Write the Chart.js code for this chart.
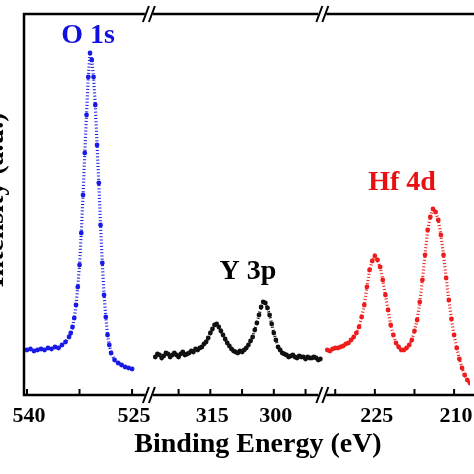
<!DOCTYPE html>
<html><head><meta charset="utf-8">
<script src="https://cdn.jsdelivr.net/npm/chart.js@4/dist/chart.umd.min.js"></script>
<style>html,body{margin:0;padding:0;background:#fff}#wrap{width:474px;height:474px}</style>
</head><body><div id="wrap"><canvas id="c"></canvas></div>
<script>
// ─── Data (binding energy in eV, intensity in a.u.) ─────────────────────────
const O1S_E = [540,539.5,539,538.5,538,537.5,537,536.5,536,535.5,535,534.5,534,533.75,533.5,533.25,533,532.75,532.5,532.25,532,531.75,531.5,531.25,531,530.75,530.5,530.25,530,529.75,529.5,529.25,529,528.75,528.5,528.25,528,527.5,527,526.5,526,525.5,525];
const O1S_I = [45,46,44,45,46,45,47,46,48,47,50,53,58,62,68,77,90,108,130,162,200,242,280,318,342,335,318,290,250,212,170,132,100,78,60,50,42,35,32,30,28,27,26];
const Y3P_E = [328,327.5,327,326.5,326,325.5,325,324.5,324,323.5,323,322.5,322,321.5,321,320.5,320,319.5,319,318.5,318,317.5,317,316.5,316,315.5,315,314.5,314,313.5,313,312.5,312,311.5,311,310.5,310,309.5,309,308.5,308,307.5,307,306.5,306,305.5,305,304.5,304,303.5,303,302.5,302,301.5,301,300.5,300,299.5,299,298.5,298,297.5,297,296.5,296,295.5,295,294.5,294,293.5,293,292.5,292,291.5,291,290.5,290,289.5,289];
const Y3P_I = [38,41,40,37,39,42,41,38,40,42,40,38,41,43,40,41,42,44,43,46,45,47,48,51,53,57,62,66,70,71,68,64,60,56,52,49,46,44,43,42,44,43,45,47,50,54,58,65,72,80,88,93,92,87,80,71,62,55,48,45,42,41,40,38,39,40,38,37,39,38,38,36,38,37,37,38,37,35,36];
const HF4D_E = [234,233.5,233,232.5,232,231.5,231,230.5,230,229.5,229,228.5,228,227.5,227,226.5,226,225.5,225,224.5,224,223.5,223,222.5,222,221.5,221,220.5,220,219.5,219,218.5,218,217.5,217,216.5,216,215.5,215,214.5,214,213.5,213,212.5,212,211.5,211,210.5,210,209.5,209,208.5,208,207.5,207];
const HF4D_I = [45,44,46,47,47,48,49,51,52,55,58,62,68,78,90,108,125,134,139,135,128,115,100,85,70,60,52,48,45,45,47,50,55,64,75,93,115,140,165,178,186,183,175,160,140,117,95,76,60,47,36,27,20,15,12];
const MAJOR_TICKS = [540,525,315,300,225,210];
const MINOR_TICKS = [532.5,322.5,307.5,292.5,232.5,217.5];

// ─── Broken axis: each segment has its own scale onto one linear axis ───────
const SEGMENTS = [
    { e0: 540, u0: 27,  k: 7.07 },
    { e0: 315, u0: 212, k: 4.27 },
    { e0: 225, u0: 378, k: 5.33 },
];
const segOf = e => e > 400 ? SEGMENTS[0] : (e > 260 ? SEGMENTS[1] : SEGMENTS[2]);
const toU = e => { const s = segOf(e); return s.u0 + (s.e0 - e) * s.k; };
const pts = (E, I) => E.map((e, i) => ({ x: toU(e), y: I[i] }));

const ds = (E, I, color) => ({
    data: pts(E, I), showLine: true, borderDash: [1, 2.2], borderWidth: 3.2,
    pointRadius: 2.4, pointBorderWidth: 0,
    backgroundColor: color, borderColor: color,
});

const decor = {
    id: "decor",
    afterDraw(chart) {
        const { ctx, chartArea: a, scales: { x } } = chart;
        ctx.save();
        ctx.strokeStyle = "#000"; ctx.lineWidth = 2.5;
        ctx.beginPath();
        ctx.moveTo(a.right + 5, a.top); ctx.lineTo(a.left, a.top);
        ctx.lineTo(a.left, a.bottom); ctx.lineTo(a.right + 5, a.bottom);
        ctx.stroke();
        // ticks (inward)
        ctx.lineWidth = 2;
        [...MAJOR_TICKS, ...MINOR_TICKS].forEach(e => {
            const px = x.getPixelForValue(toU(e));
            ctx.beginPath(); ctx.moveTo(px, a.bottom); ctx.lineTo(px, a.bottom - 6); ctx.stroke();
        });
        // axis breaks
        [150, 325].forEach(u => {
            const px = x.getPixelForValue(u);
            [a.top, a.bottom].forEach(py => {
                ctx.fillStyle = "#fff"; ctx.fillRect(px - 4, py - 3, 8, 6);
                ctx.strokeStyle = "#000"; ctx.lineWidth = 2;
                [-3, 3].forEach(d => {
                    ctx.beginPath(); ctx.moveTo(px + d - 3, py + 8); ctx.lineTo(px + d + 3, py - 8); ctx.stroke();
                });
            });
        });
        // tick labels
        ctx.fillStyle = "#000"; ctx.textAlign = "center"; ctx.textBaseline = "top";
        ctx.font = "bold 22px 'Liberation Serif'";
        MAJOR_TICKS.forEach(e => ctx.fillText(String(e), x.getPixelForValue(toU(e)) + 2, a.bottom + 10));
        ctx.font = "bold 28px 'Liberation Serif'";
        ctx.fillText("Binding Energy (eV)", 258, a.bottom + 36);
        // y title (mostly off-canvas)
        ctx.save(); ctx.translate(-4, 200); ctx.rotate(-Math.PI / 2);
        ctx.textBaseline = "middle"; ctx.fillText("Intensity (a.u.)", 0, 0); ctx.restore();
        // peak labels
        ctx.textBaseline = "middle";
        ctx.font = "bold 28px 'Liberation Serif'";
        ctx.fillStyle = "#1010e0"; ctx.fillText("O 1s", 88, 36);
        ctx.fillStyle = "#000";    ctx.fillText("Y 3p", 248, 272);
        ctx.fillStyle = "#e81010"; ctx.fillText("Hf 4d", 402, 183);
        ctx.restore();
    },
};

new Chart(document.getElementById("c"), {
    type: "scatter",
    data: { datasets: [
        ds(O1S_E, O1S_I, "#1a1ae6"),
        ds(Y3P_E, Y3P_I, "#111"),
        ds(HF4D_E, HF4D_I, "#ee1c1c"),
    ]},
    options: {
        responsive: true, maintainAspectRatio: false, animation: false,
        layout: { padding: { left: 24, top: 14, right: 0, bottom: 79 } },
        plugins: { legend: { display: false }, tooltip: { enabled: false } },
        scales: {
            x: { type: "linear", min: 24, max: 474, display: false },
            y: { type: "linear", min: 0, max: 381, display: false },
        },
    },
    plugins: [decor],
});
</script></body></html>
